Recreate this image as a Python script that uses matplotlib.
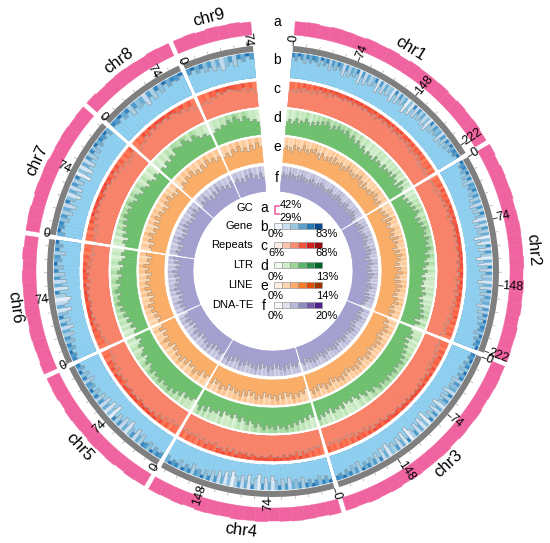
import numpy as np
import matplotlib
matplotlib.use('Agg')
import matplotlib.pyplot as plt
from matplotlib.patches import Rectangle

plt.rcParams['font.family'] = ['Liberation Sans', 'DejaVu Sans']

CHROMS = ['chr1', 'chr2', 'chr3', 'chr4', 'chr5', 'chr6', 'chr7', 'chr8', 'chr9']
CHROM_LEN = [232, 224, 220, 198, 146, 141, 137, 101, 80]
TICK_STEP = 74

GC = [
    "8979879897988979897",
    "9798978988979897989",
    "898798979889798978",
    "9789879897897989",
    "897989789798",
    "978979889797",
    "89798978989",
    "97898798",
    "8979897",
]
GENE = [
    "869758687596847586374658273645827364528374615283746352847563748596879",
    "9786958476857463748526374615283741628374526384756374859687596879",
    "879685968475638475263748152637418263745263847586947586978",
    "96857968475637485263714826374152637485967486958796",
    "786957846375263748152637485967485968",
    "8796857463748526314826374859674869",
    "69785746385263748152637485968796",
    "8796847563748596879",
    "7968574635748697",
]
REPEATS = [
    "5647586758697869798879897989798879689798796879687968576857465746",
    "465748576869786978989798978989798798697869786857685746574",
    "56475867586978697989897989789879868796857685746574657",
    "4657586968797989789898797879686978576857465746",
    "5647586979898798978968795867465",
    "465768697989879897968796857465",
    "56475869798987989786968574657",
    "465869798979868574",
    "5647697898768574",
]
LTR = [
    "3524635475364758697586978697586475364253426354263546374528364",
    "4253647586475869786978697586475364253425364253647586374",
    "3546253647586978697869786975864753642534263546253647",
    "42536475869786978697586475364253426354637485",
    "354637586978697869758647536425",
    "4253647586978697586475364253",
    "352647586978697586475364253",
    "42536487697586453",
    "354658697586453",
]
LINE = [
    "4635274635846375846275364738465736485746375846273546375846374",
    "5364728463574638475637485746375846374857463758463746",
    "4637584637485746375846374857463748574637584637485",
    "36475846374857463758463748574637584637",
    "4637584637485746375846374",
    "5364758463748574637584637",
    "463758463748574637584636",
    "3647584637485746",
    "4637584637485",
]
DNATE = [
    "5746384756374857463758463748574637584637485746375846374857463",
    "6475836475847563748574637584637485746375846374857464",
    "5746385746374857463758463748574637584637485746375",
    "47563748574637584637485746375846374857",
    "5746374857463758463748574",
    "6475846374857463758463748",
    "574637584637485746375846",
    "4758463748574637",
    "5746375846374",
]

LEGEND_NAMES = ['GC', 'Gene', 'Repeats', 'LTR', 'LINE', 'DNA-TE']
LEGEND_KEYS = ['a', 'b', 'c', 'd', 'e', 'f']
LEGEND_LOW = ['29%', '0%', '6%', '0%', '0%', '0%']
LEGEND_HIGH = ['42%', '83%', '68%', '13%', '14%', '20%']

PINK = '#ef64a0'
# (data, colormap, heat range, area colour, inner r, outer r)
TRACKS = [
    (GENE, 'Blues', (0.02, 0.75), '#8fcff0', 194, 219),
    (REPEATS, 'Reds', (0.3, 0.6), '#f8846b', 165, 190),
    (LTR, 'Greens', (0.1, 0.4), '#6ec06e', 137, 162),
    (LINE, 'Oranges', (0.1, 0.36), '#f9ad66', 109, 134),
    (DNATE, 'Purples', (0.18, 0.45), '#a3a0d0', 80, 105),
]

TOP_GAP = 10.2
GAP = 1.2
deg_per = (360 - TOP_GAP - GAP * (len(CHROMS) - 1)) / sum(CHROM_LEN)
starts = []
a = TOP_GAP / 2
for L in CHROM_LEN:
    starts.append(a)
    a += L * deg_per + GAP


def to_theta(ci, pos):
    return np.deg2rad(starts[ci] + pos * deg_per)


fig = plt.figure(figsize=(5.5, 5.43), dpi=100)
R = 256
cx, cy = 273, 272  # centre in pixels from the bottom-left
ax = fig.add_axes([(cx - R) / 550, (cy - R) / 543, 2 * R / 550, 2 * R / 543],
                  projection='polar')
ax.set_theta_zero_location('N')
ax.set_theta_direction(-1)
ax.set_ylim(0, R)
ax.set_axis_off()


def bins(ci, s):
    n = len(s)
    edges = to_theta(ci, np.linspace(0, CHROM_LEN[ci], n + 1))
    vals = np.array([int(c) for c in s])
    return edges, vals


for ci, L in enumerate(CHROM_LEN):
    # GC histogram
    edges, vals = bins(ci, GC[ci])
    h = (0.72 + 0.03 * vals) * 14
    ax.bar((edges[:-1] + edges[1:]) / 2, h, width=np.diff(edges), bottom=237,
           color=PINK, edgecolor=PINK, linewidth=0.3)

    # ideogram
    t0, t1 = to_theta(ci, 0), to_theta(ci, L)
    ax.bar((t0 + t1) / 2, 6, width=t1 - t0, bottom=220, color='#7f7f7f',
           linewidth=0)

    # ticks
    minor = np.arange(0, L + 0.01, TICK_STEP / 5)
    ax.vlines(to_theta(ci, minor), 226, 229, color='#aaaaaa', lw=0.5)
    major = np.arange(0, L + 0.01, TICK_STEP)
    ax.vlines(to_theta(ci, major), 226, 231, color='#444444', lw=0.7)
    for p in major:
        ang = starts[ci] + p * deg_per
        rot = (90 - ang) % 360
        if 90 < rot < 270:
            ax.text(np.deg2rad(ang), 226, '%d' % p, rotation=rot + 180,
                    rotation_mode='anchor', ha='right', va='center',
                    fontsize=9)
        else:
            ax.text(np.deg2rad(ang), 230, '%d' % p, rotation=rot,
                    rotation_mode='anchor', ha='left', va='center',
                    fontsize=9)

    # chromosome name
    mid = starts[ci] + L * deg_per / 2
    rot = ((90 - mid) - 90 + 180) % 360 - 180
    if rot < -90 or rot > 90:
        rot += 180
    ax.text(np.deg2rad(mid), 261, CHROMS[ci], rotation=rot,
            rotation_mode='anchor', ha='center', va='center', fontsize=12)

    # heatmap + area tracks
    for data, cmap_name, (lo, hi), area_col, r0, r1 in TRACKS:
        cmap = plt.get_cmap(cmap_name)
        edges, vals = bins(ci, data[ci])
        mids = (edges[:-1] + edges[1:]) / 2
        w = np.diff(edges)
        heat = cmap(lo + (hi - lo) * vals / 9)
        ax.bar(mids, r1 - r0, width=w, bottom=r0, color=heat, edgecolor=heat,
               linewidth=0.3)
        tops = (0.33 + 0.06 * vals) * (r1 - r0)
        ax.bar(mids, tops, width=w, bottom=r0, color=area_col,
               edgecolor=area_col, linewidth=0.3)
        th = np.repeat(edges, 2)[1:-1]
        rr = np.repeat(r0 + tops, 2)
        ax.plot(th, rr, color='#999999', lw=0.4)

# overlay in pixel coordinates for the legend and track letters
ov = fig.add_axes([0, 0, 1, 1])
ov.set_xlim(0, 550)
ov.set_ylim(543, 0)
ov.axis('off')

top_y = [22, 60, 89, 118, 147, 178]
for k, y in zip(LEGEND_KEYS, top_y):
    ov.text(277, y, k, ha='center', va='center', fontsize=10)

name_base = [211, 229, 248, 268, 288, 308]
key_base = [212, 231, 250, 270, 290, 310]
for i, name in enumerate(LEGEND_NAMES):
    ov.text(253, name_base[i], name, ha='right', va='baseline', fontsize=8)
    ov.text(264, key_base[i], LEGEND_KEYS[i], ha='center', va='baseline',
            fontsize=10)

# GC bracket
ov.plot([279, 275, 275, 279], [205.5, 205.5, 213.5, 213.5], color=PINK, lw=1.2)
ov.text(280, 208, LEGEND_HIGH[0], ha='left', va='baseline', fontsize=8)
ov.text(279, 221, LEGEND_LOW[0], ha='left', va='baseline', fontsize=8)

box_top = [223, 242, 262, 282, 302]
lab_base = [237, 256, 280, 299, 319]
for i, (data, cmap_name, rng, area_col, r0, r1) in enumerate(TRACKS):
    cmap = plt.get_cmap(cmap_name)
    cols = cmap(np.linspace(0.05, 0.9, 6))
    for j in range(6):
        ov.add_patch(Rectangle((274 + 8 * j, box_top[i]), 8, 6,
                               facecolor=cols[j], edgecolor='#999999',
                               lw=0.5))
    ov.text(276, lab_base[i], LEGEND_LOW[i + 1], ha='center', va='baseline',
            fontsize=8)
    ov.text(327, lab_base[i], LEGEND_HIGH[i + 1], ha='center', va='baseline',
            fontsize=8)

fig.savefig('out.png', dpi=100)
